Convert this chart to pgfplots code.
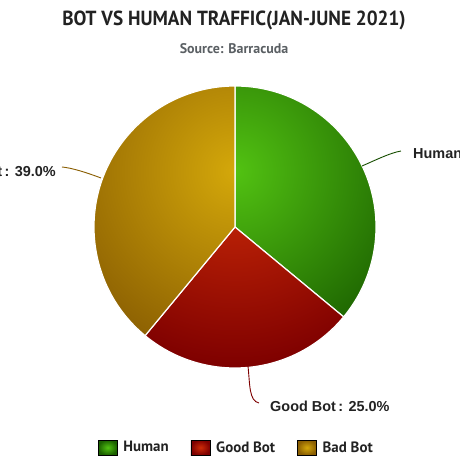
\documentclass[border=0pt]{standalone}
\usepackage{pgfplots}
\pgfplotsset{compat=1.18}
\usepackage{pgfplotstable}
\usepackage{fontspec}
\setmainfont{Liberation Sans}
\newfontfamily\titlefont{PT Sans}

\definecolor{hIn}{HTML}{52C212}
\definecolor{hOut}{HTML}{1B6000}
\definecolor{gIn}{HTML}{CE2C08}
\definecolor{gOut}{HTML}{7E0000}
\definecolor{bIn}{HTML}{D4A80A}
\definecolor{bOut}{HTML}{8A5E02}
\definecolor{titlegray}{HTML}{222222}
\definecolor{subgray}{HTML}{5A5F63}

% share of traffic, per cent
\pgfplotstableread{
label value
Human 36.0
GoodBot 25.0
BadBot 39.0
}\piedata

% pie centre (235,227), radius 141; gradient centred at (235,171), radius 197
\newcommand\slice[4]{%
  \begin{scope}
    \clip (axis cs:235,-227) -- ++(#1:141bp) arc[start angle=#1, end angle=#2, radius=141bp] -- cycle;
    \shade[inner color=#3, outer color=#4] (axis cs:235,-171) circle[radius=197bp];
  \end{scope}
  \draw[white, line width=1.2bp, line join=round]
    (axis cs:235,-227) -- ++(#1:141bp) arc[start angle=#1, end angle=#2, radius=141bp] -- cycle;
}

\begin{document}
\begin{tikzpicture}
\pgfplotstablegetelem{0}{value}\of\piedata \let\vA\pgfplotsretval
\pgfplotstablegetelem{1}{value}\of\piedata \let\vB\pgfplotsretval
\pgfplotstablegetelem{2}{value}\of\piedata \let\vC\pgfplotsretval
\pgfmathsetmacro\aA{90}
\pgfmathsetmacro\aB{\aA-3.6*\vA}
\pgfmathsetmacro\aC{\aB-3.6*\vB}
\pgfmathsetmacro\aD{\aC-3.6*\vC}
\useasboundingbox (0,0) rectangle (460bp,460bp);
\begin{axis}[
    at={(0,0)}, anchor=south west,
    scale only axis, width=460bp, height=460bp,
    xmin=0, xmax=460, ymin=-460, ymax=0,
    hide axis, clip=false,
    legend columns=-1,
    legend style={draw=none, fill=none, inner sep=0pt, outer sep=0pt,
        at={(98/460,12.5/460)}, anchor=west,
        font=\titlefont\bfseries\fontsize{15}{18}\selectfont\color{titlegray},
        nodes={inner sep=0pt},
        /tikz/every odd column/.append style={column sep=6bp},
        /tikz/every even column/.append style={column sep=22bp}},
]
\addlegendimage{legend image code/.code={\shade[inner color=hIn, outer color=hOut] (0bp,-7.5bp) rectangle (19bp,7.5bp);}}
\addlegendentry{Human}
\addlegendimage{legend image code/.code={\shade[inner color=gIn, outer color=gOut] (0bp,-7.5bp) rectangle (19bp,7.5bp);}}
\addlegendentry{Good Bot}
\addlegendimage{legend image code/.code={\shade[inner color=bIn, outer color=bOut] (0bp,-7.5bp) rectangle (19bp,7.5bp);}}
\addlegendentry{Bad Bot}

\slice{\aA}{\aB}{hIn}{hOut}
\slice{\aB}{\aC}{gIn}{gOut}
\slice{\aC}{\aD}{bIn}{bOut}

% connectors
\draw[color=hOut!80!black, line width=0.9bp] (axis cs:362,-166) .. controls (axis cs:378,-159) and (axis cs:390,-153) .. (axis cs:401,-151);
\draw[color=gOut, line width=0.9bp] (axis cs:248,-366) .. controls (axis cs:250,-385) and (axis cs:249,-401) .. (axis cs:259,-403);
\draw[color=bOut, line width=0.9bp] (axis cs:101,-178) .. controls (axis cs:85,-172) and (axis cs:72,-168) .. (axis cs:62,-167);

% data labels
\node[anchor=west, inner sep=0pt, font=\bfseries\fontsize{14.5}{17}\selectfont, text=titlegray] at (axis cs:413,-154) {Human\,: 36.0\%};
\node[anchor=west, inner sep=0pt, font=\bfseries\fontsize{14.5}{17}\selectfont, text=titlegray] at (axis cs:270,-406) {Good Bot\,: 25.0\%};
\node[anchor=east, inner sep=0pt, font=\bfseries\fontsize{14.5}{17}\selectfont, text=titlegray] at (axis cs:56,-171) {Bad Bot\,: 39.0\%};

% titles
\node[inner sep=0pt, xscale=0.94, font=\titlefont\bfseries\fontsize{20.5}{24}\selectfont, text=titlegray] at (axis cs:234,-20.5) {BOT VS HUMAN TRAFFIC(JAN-JUNE 2021)};
\node[inner sep=0pt, font=\titlefont\bfseries\fontsize{14}{17}\selectfont, text=subgray] at (axis cs:234,-48.5) {Source: Barracuda};
\end{axis}
\end{tikzpicture}
\end{document}
